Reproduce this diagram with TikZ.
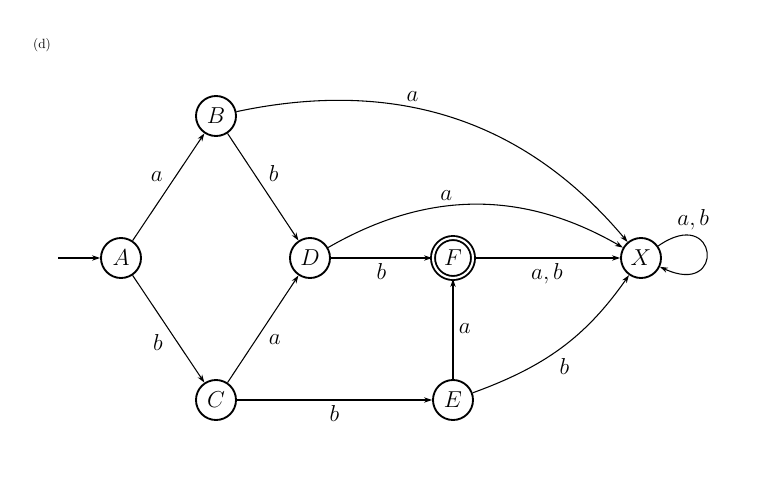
\documentclass[tikz,border=0pt]{standalone}
\usetikzlibrary{arrows.meta}
\begin{document}
\begin{tikzpicture}[x=0.75pt,y=-0.75pt,
  st/.style={circle,draw,line width=1.4pt,minimum size=30pt,inner sep=0pt,font=\fontsize{17}{19}\selectfont},
  acc/.style={st,double,double distance=1.6pt},
  tr/.style={-{Stealth[length=6pt,width=4pt]},line width=0.8pt},
  lb/.style={font=\fontsize{17}{19}\selectfont,inner sep=4pt}]
\useasboundingbox (0,0) rectangle (764,482);
\node[font=\normalsize] (d) at (42,45) {(d)};
\node[st] (A) at (121,258) {$A$};
\node[st] (B) at (216,116) {$B$};
\node[st] (C) at (216,400) {$C$};
\node[st] (D) at (310,258) {$D$};
\node[acc] (F) at (453,258) {$F$};
\node[st] (E) at (453,400) {$E$};
\node[st] (X) at (641,258) {$X$};
\coordinate (s) at (58,258);
\draw[tr] (s) -- (A);
\draw[tr] (A) -- node[lb,above left] {$a$} (B);
\draw[tr] (A) -- node[lb,below left] {$b$} (C);
\draw[tr] (B) -- node[lb,above right] {$b$} (D);
\draw[tr] (C) -- node[lb,below right] {$a$} (D);
\draw[tr] (D) -- node[lb,below] {$b$} (F);
\draw[tr] (F) -- node[lb,below] {$a,b$} (X);
\draw[tr] (C) -- node[lb,below] {$b$} (E);
\draw[tr] (E) -- node[lb,right] {$a$} (F);
\draw[tr] (B) to[out=12,in=130] node[lb,above,pos=0.4] {$a$} (X);
\draw[tr] (D) to[out=30,in=150] node[lb,above,pos=0.4] {$a$} (X);
\draw[tr] (E) to[out=20,in=235] node[lb,below right,pos=0.45] {$b$} (X);
\draw[tr] (X) to[out=35,in=-25,looseness=9] node[lb,above,pos=0.25] {$a,b$} (X);
\end{tikzpicture}
\end{document}
